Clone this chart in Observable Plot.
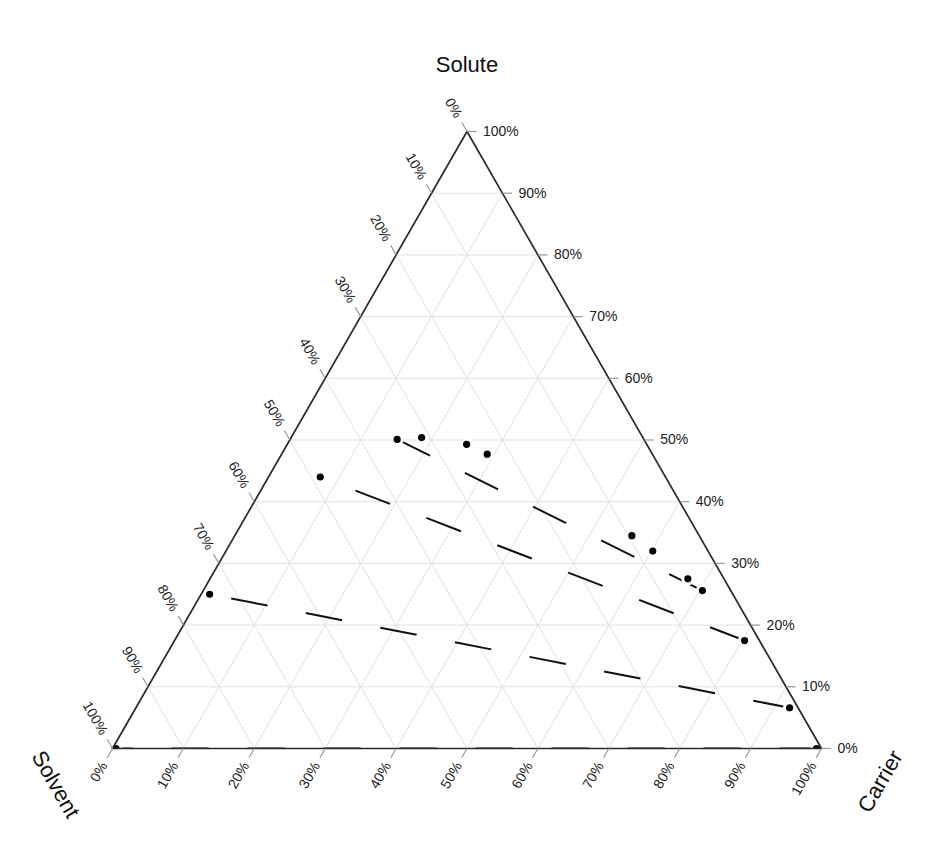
<!DOCTYPE html>
<html>
<head>
<meta charset="utf-8">
<script src="https://cdn.jsdelivr.net/npm/d3@7"></script>
<script src="https://cdn.jsdelivr.net/npm/@observablehq/plot@0.6"></script>
<style>
  html, body { margin: 0; padding: 0; background: #fff; }
</style>
</head>
<body>
<div id="chart"></div>
<script>
// ---- data (percent) ----
const solute  = [50.1, 50.4, 49.3, 47.7, 34.5, 32.0, 27.5, 25.6, 44.0, 17.5, 25.0,  6.6,  0.0,  0.0];
const carrier = [15.1, 18.4, 25.3, 29.0, 56.0, 60.2, 67.4, 70.4,  7.3, 80.4,  1.2, 92.2,  0.5, 99.3];
const solvent = [34.8, 31.2, 25.4, 23.3,  9.5,  7.8,  5.1,  4.0, 48.7,  2.1, 73.8,  1.2, 99.5,  0.7];
// tie lines: carrier-rich point -> solvent-rich point (indices into the arrays above)
const tieCarrierRich = [7, 9, 11, 13];
const tieSolventRich = [0, 8, 10, 12];
const tickValues = [0, 10, 20, 30, 40, 50, 60, 70, 80, 90, 100];
const axisTitles = {top: "Solute", left: "Solvent", right: "Carrier"};

// ternary (solute, carrier) -> cartesian data coords
const X = (s, c) => (c + s / 2) / 100;
const Y = (s) => s / 100;

const points = solute.map((s, i) => ({s, c: carrier[i], v: solvent[i]}));
const ties = tieCarrierRich.map((a, k) => ({a: points[a], b: points[tieSolventRich[k]]}));

const inner = tickValues.filter(t => t > 0 && t < 100);
const grid = [
  // constant solute (horizontal)
  ...inner.map(t => ({x1: X(t, 0), y1: Y(t), x2: X(t, 100 - t), y2: Y(t)})),
  // constant carrier (parallel to left edge)
  ...inner.map(t => ({x1: X(0, t), y1: Y(0), x2: X(100 - t, t), y2: Y(100 - t)})),
  // constant solvent (parallel to right edge)
  ...inner.map(t => ({x1: X(0, 100 - t), y1: Y(0), x2: X(100 - t, 0), y2: Y(100 - t)}))
];

const vertices = [{s: 100, c: 0}, {s: 0, c: 0}, {s: 0, c: 100}, {s: 100, c: 0}];

const L = 0.015; // tick length in data units
const rightTicks = tickValues.map(t => ({t, x: X(t, 100 - t), y: Y(t)}));         // solute
const leftTicks  = tickValues.map(t => ({t, x: X(100 - t, 0), y: Y(100 - t)}));   // solvent
const bottomTicks = tickValues.map(t => ({t, x: X(0, t), y: Y(0)}));               // carrier

const fontFamily = "'Liberation Sans', Arial, Helvetica, sans-serif";

const chart = Plot.plot({
  width: 932,
  height: 844,
  marginLeft: 112,
  marginRight: 111,
  marginTop: 131,
  marginBottom: 96,
  x: {domain: [0, 1], axis: null},
  y: {domain: [0, 1], axis: null},
  style: {fontFamily, fontSize: "14px", color: "#222", background: "#fff"},
  marks: [
    // grid
    Plot.link(grid, {x1: "x1", y1: "y1", x2: "x2", y2: "y2", stroke: "#e1e1e1", strokeWidth: 1}),
    // tie lines
    Plot.link(ties, {
      x1: d => X(d.a.s, d.a.c), y1: d => Y(d.a.s),
      x2: d => X(d.b.s, d.b.c), y2: d => Y(d.b.s),
      stroke: "#111", strokeWidth: 2, strokeDasharray: "37,39", clip: true
    }),
    // points
    Plot.dot(points, {
      x: d => X(d.s, d.c), y: d => Y(d.s),
      r: 3.6, fill: "#000", stroke: "#fff", strokeWidth: 6, paintOrder: "stroke", clip: true
    }),
    // triangle border
    Plot.line(vertices, {x: d => X(d.s, d.c), y: d => Y(d.s), stroke: "#2a2a2a", strokeWidth: 1.7}),
    // ticks
    Plot.link(rightTicks, {x1: "x", y1: "y", x2: d => d.x + L * 0.9, y2: "y", stroke: "#999", strokeWidth: 1.2}),
    Plot.link(leftTicks, {x1: "x", y1: "y", x2: d => d.x - L * 0.5, y2: d => d.y + L, stroke: "#999", strokeWidth: 1.2}),
    Plot.link(bottomTicks, {x1: "x", y1: "y", x2: d => d.x - L * 0.5, y2: d => d.y - L, stroke: "#999", strokeWidth: 1.2}),
    // tick labels
    Plot.text(rightTicks, {x: "x", y: "y", text: d => `${d.t}%`, dx: 16, textAnchor: "start", fill: "#222"}),
    Plot.text(leftTicks, {x: "x", y: "y", text: d => `${d.t}%`, dx: -8.5, dy: -14.7, rotate: 60, textAnchor: "end", fill: "#222"}),
    Plot.text(bottomTicks, {x: "x", y: "y", text: d => `${d.t}%`, dx: -8.5, dy: 14.7, rotate: -60, textAnchor: "end", fill: "#222"}),
    // axis titles
    Plot.text([axisTitles.top], {x: X(100, 0), y: Y(100), text: d => d, dy: -67, fontSize: 22, fill: "#111"}),
    Plot.text([axisTitles.left], {x: X(0, 0), y: Y(0), text: d => d, dx: -57, dy: 36, rotate: 60, fontSize: 22, fill: "#111"}),
    Plot.text([axisTitles.right], {x: X(0, 100), y: Y(0), text: d => d, dx: 59, dy: 33, rotate: -60, fontSize: 22, fill: "#111"})
  ]
});

document.getElementById("chart").appendChild(chart);
</script>
</body>
</html>
